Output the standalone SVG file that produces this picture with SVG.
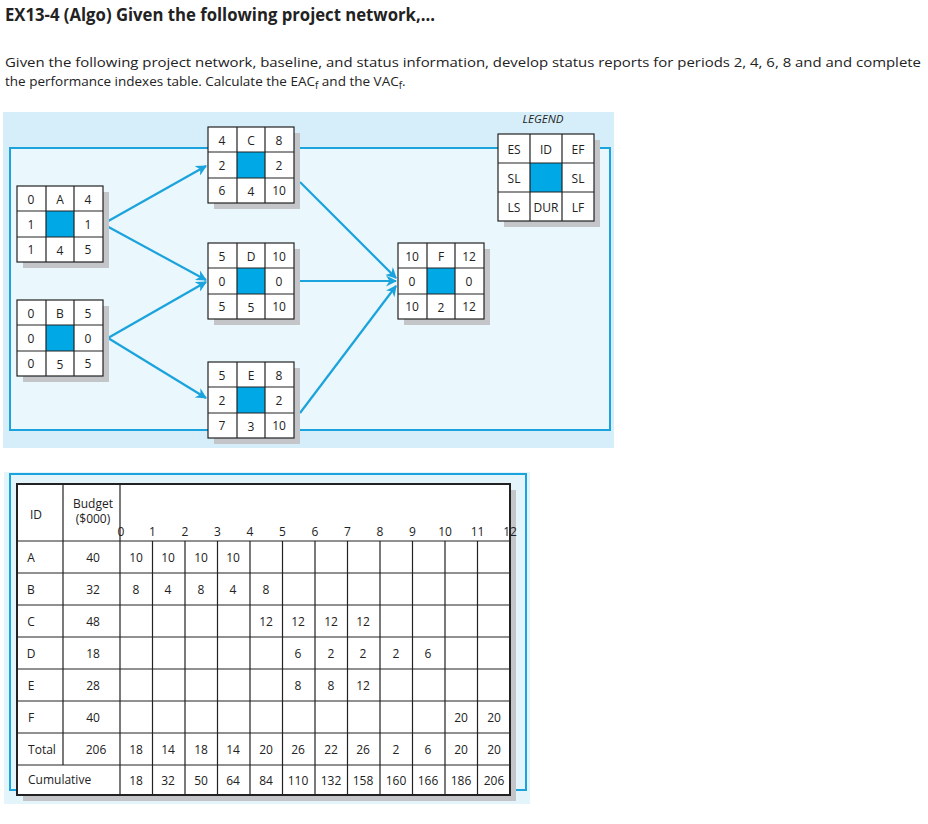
<svg xmlns="http://www.w3.org/2000/svg" width="928" height="824" viewBox="0 0 928 824">
<defs>
<style>
text{font-family:"Open Sans","Liberation Sans",sans-serif;fill:#222}
.t{font-size:12px;text-anchor:middle;dominant-baseline:central}
.g{fill:#fff;stroke:#222;stroke-width:1.2}
.sh{fill:#c4c5c9}
.id{fill:#00a9e6}
.c{stroke:#1aa3dc;stroke-width:2.2;fill:none;marker-end:url(#ah)}
.tl{stroke:#222;stroke-width:1.2}
</style>
<marker id="ah" viewBox="0 0 10 10" refX="9" refY="5" markerWidth="5" markerHeight="5" orient="auto"><path d="M0,0 L10,5 L0,10 L3,5 z" fill="#1aa3dc"/></marker>
</defs>
<rect width="928" height="824" fill="#fff"/>
<text x="5" y="21" font-size="17" font-weight="bold" textLength="430" lengthAdjust="spacingAndGlyphs">EX13-4 (Algo) Given the following project network,...</text>
<text x="5" y="67" font-size="13.5" textLength="916" lengthAdjust="spacingAndGlyphs">Given the following project network, baseline, and status information, develop status reports for periods 2, 4, 6, 8 and and complete</text>
<text x="5" y="86" font-size="13.5">the performance indexes table. Calculate the EAC<tspan font-size="10" dy="3">f</tspan><tspan dy="-3"> and the VAC</tspan><tspan font-size="10" dy="3">f</tspan><tspan dy="-3">.</tspan></text>

<rect x="3" y="112" width="611" height="336" fill="#d6eef9"/>
<rect x="10" y="148" width="600" height="282" fill="#eaf7fd" stroke="#1aa3dc" stroke-width="2"/>

<g id="connectors">
<path class="c" d="M103,224 L206,166"/>
<path class="c" d="M103,224 L206,280"/>
<path class="c" d="M108,338 L206,282"/>
<path class="c" d="M108,338 L206,398"/>
<path class="c" d="M300,182 L396,278"/>
<path class="c" d="M300,281 L396,281" stroke-width="3"/>
<path class="c" d="M300,413 L396,286"/>
</g>

<g id="node-A" transform="translate(17,186)">
<rect class="sh" x="6" y="6" width="86" height="76"/><rect class="g" width="86" height="76"/>
<rect class="id" x="29" y="25" width="28" height="26"/>
<path class="tl" d="M29,0V76M57,0V76M0,25H86M0,51H86"/>
<text class="t" x="14" y="13">0</text><text class="t" x="43" y="13">A</text><text class="t" x="71" y="13">4</text>
<text class="t" x="14" y="38">1</text><text class="t" x="71" y="38">1</text>
<text class="t" x="14" y="63">1</text><text class="t" x="43" y="64">4</text><text class="t" x="71" y="63">5</text>
</g>
<g id="node-B" transform="translate(17,300)">
<rect class="sh" x="6" y="6" width="86" height="76"/><rect class="g" width="86" height="76"/>
<rect class="id" x="29" y="25" width="28" height="26"/>
<path class="tl" d="M29,0V76M57,0V76M0,25H86M0,51H86"/>
<text class="t" x="14" y="13">0</text><text class="t" x="43" y="13">B</text><text class="t" x="71" y="13">5</text>
<text class="t" x="14" y="38">0</text><text class="t" x="71" y="38">0</text>
<text class="t" x="14" y="63">0</text><text class="t" x="43" y="64">5</text><text class="t" x="71" y="63">5</text>
</g>
<g id="node-C" transform="translate(208,127)">
<rect class="sh" x="6" y="6" width="86" height="76"/><rect class="g" width="86" height="76"/>
<rect class="id" x="29" y="25" width="28" height="26"/>
<path class="tl" d="M29,0V76M57,0V76M0,25H86M0,51H86"/>
<text class="t" x="14" y="13">4</text><text class="t" x="43" y="13">C</text><text class="t" x="71" y="13">8</text>
<text class="t" x="14" y="38">2</text><text class="t" x="71" y="38">2</text>
<text class="t" x="14" y="63">6</text><text class="t" x="43" y="64">4</text><text class="t" x="71" y="63">10</text>
</g>
<g id="node-D" transform="translate(208,243)">
<rect class="sh" x="6" y="6" width="86" height="76"/><rect class="g" width="86" height="76"/>
<rect class="id" x="29" y="25" width="28" height="26"/>
<path class="tl" d="M29,0V76M57,0V76M0,25H86M0,51H86"/>
<text class="t" x="14" y="13">5</text><text class="t" x="43" y="13">D</text><text class="t" x="71" y="13">10</text>
<text class="t" x="14" y="38">0</text><text class="t" x="71" y="38">0</text>
<text class="t" x="14" y="63">5</text><text class="t" x="43" y="64">5</text><text class="t" x="71" y="63">10</text>
</g>
<g id="node-E" transform="translate(208,362)">
<rect class="sh" x="6" y="6" width="86" height="76"/><rect class="g" width="86" height="76"/>
<rect class="id" x="29" y="25" width="28" height="26"/>
<path class="tl" d="M29,0V76M57,0V76M0,25H86M0,51H86"/>
<text class="t" x="14" y="13">5</text><text class="t" x="43" y="13">E</text><text class="t" x="71" y="13">8</text>
<text class="t" x="14" y="38">2</text><text class="t" x="71" y="38">2</text>
<text class="t" x="14" y="63">7</text><text class="t" x="43" y="64">3</text><text class="t" x="71" y="63">10</text>
</g>
<g id="node-F" transform="translate(398,243)">
<rect class="sh" x="6" y="6" width="86" height="76"/><rect class="g" width="86" height="76"/>
<rect class="id" x="29" y="25" width="28" height="26"/>
<path class="tl" d="M29,0V76M57,0V76M0,25H86M0,51H86"/>
<text class="t" x="14" y="13">10</text><text class="t" x="43" y="13">F</text><text class="t" x="71" y="13">12</text>
<text class="t" x="14" y="38">0</text><text class="t" x="71" y="38">0</text>
<text class="t" x="14" y="63">10</text><text class="t" x="43" y="64">2</text><text class="t" x="71" y="63">12</text>
</g>
<g id="legend" transform="translate(498,134)">
<text x="45" y="-11" font-size="11.5" font-style="italic" text-anchor="middle">LEGEND</text>
<rect class="sh" x="6" y="6" width="96" height="87"/><rect class="g" width="96" height="87"/>
<rect class="id" x="32" y="29" width="32" height="29"/>
<path class="tl" d="M32,0V87M64,0V87M0,29H96M0,58H96"/>
<text class="t" x="16" y="15">ES</text><text class="t" x="48" y="15">ID</text><text class="t" x="80" y="15">EF</text>
<text class="t" x="16" y="44">SL</text><text class="t" x="80" y="44">SL</text>
<text class="t" x="16" y="73">LS</text><text class="t" x="48" y="73">DUR</text><text class="t" x="80" y="73">LF</text>
</g>

<g id="table">
<rect x="4" y="472" width="526" height="332" fill="#e3f4fb"/>
<rect x="10" y="474" width="516" height="316" fill="none" stroke="#1aa3dc" stroke-width="2"/>
<rect x="23" y="490" width="493" height="311" class="sh"/>
<rect x="17" y="484" width="493" height="311" fill="#fff" stroke="#222" stroke-width="2"/>
<path class="tl" d="M63,484V765M120,484V795" stroke-width="2"/>
<path class="tl" d="M152.5,541V795M185,541V795M217.5,541V795M250,541V795M282.5,541V795M315,541V795M347.5,541V795M380,541V795M412.5,541V795M445,541V795M477.5,541V795"/>
<path class="tl" d="M17,541H510M17,573H510M17,605H510M17,637H510M17,669H510M17,701H510M17,733H510M17,765H510"/>
<text class="t" x="36" y="514">ID</text>
<text class="t" x="93" y="503" font-size="11.5">Budget</text><text class="t" x="93" y="518" font-size="11.5">($000)</text>
<text class="t" x="121" y="531">0</text><text class="t" x="152.5" y="531">1</text><text class="t" x="185" y="531">2</text><text class="t" x="217.5" y="531">3</text><text class="t" x="250" y="531">4</text><text class="t" x="282.5" y="531">5</text><text class="t" x="315" y="531">6</text><text class="t" x="347.5" y="531">7</text><text class="t" x="380" y="531">8</text><text class="t" x="412.5" y="531">9</text><text class="t" x="445" y="531">10</text><text class="t" x="477.5" y="531">11</text><text class="t" x="510" y="531">12</text>
<text class="t" x="31" y="557">A</text><text class="t" x="93" y="557">40</text>
<text class="t" x="136" y="557">10</text><text class="t" x="168" y="557">10</text><text class="t" x="201" y="557">10</text><text class="t" x="233" y="557">10</text>
<text class="t" x="31" y="589">B</text><text class="t" x="93" y="589">32</text>
<text class="t" x="136" y="589">8</text><text class="t" x="168" y="589">4</text><text class="t" x="201" y="589">8</text><text class="t" x="233" y="589">4</text><text class="t" x="266" y="589">8</text>
<text class="t" x="31" y="621">C</text><text class="t" x="93" y="621">48</text>
<text class="t" x="266" y="621">12</text><text class="t" x="298" y="621">12</text><text class="t" x="331" y="621">12</text><text class="t" x="363" y="621">12</text>
<text class="t" x="31" y="653">D</text><text class="t" x="93" y="653">18</text>
<text class="t" x="298" y="653">6</text><text class="t" x="331" y="653">2</text><text class="t" x="363" y="653">2</text><text class="t" x="396" y="653">2</text><text class="t" x="428" y="653">6</text>
<text class="t" x="31" y="685">E</text><text class="t" x="93" y="685">28</text>
<text class="t" x="298" y="685">8</text><text class="t" x="331" y="685">8</text><text class="t" x="363" y="685">12</text>
<text class="t" x="31" y="717">F</text><text class="t" x="93" y="717">40</text>
<text class="t" x="461" y="717">20</text><text class="t" x="494" y="717">20</text>
<text class="t" x="42" y="749">Total</text><text class="t" x="96" y="749">206</text>
<text class="t" x="136" y="749">18</text><text class="t" x="168" y="749">14</text><text class="t" x="201" y="749">18</text><text class="t" x="233" y="749">14</text><text class="t" x="266" y="749">20</text><text class="t" x="298" y="749">26</text><text class="t" x="331" y="749">22</text><text class="t" x="363" y="749">26</text><text class="t" x="396" y="749">2</text><text class="t" x="428" y="749">6</text><text class="t" x="461" y="749">20</text><text class="t" x="494" y="749">20</text>
<text x="28" y="784" font-size="12">Cumulative</text>
<text class="t" x="136" y="780">18</text><text class="t" x="168" y="780">32</text><text class="t" x="201" y="780">50</text><text class="t" x="233" y="780">64</text><text class="t" x="266" y="780">84</text><text class="t" x="298" y="780">110</text><text class="t" x="331" y="780">132</text><text class="t" x="363" y="780">158</text><text class="t" x="396" y="780">160</text><text class="t" x="428" y="780">166</text><text class="t" x="461" y="780">186</text><text class="t" x="494" y="780">206</text>
</g>
</svg>
